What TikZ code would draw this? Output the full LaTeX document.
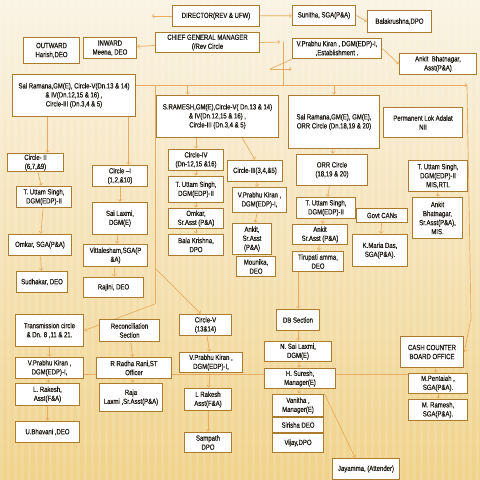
\documentclass[tikz,border=0pt]{standalone}
\usepackage{fontspec}
\setmainfont[FakeStretch=0.8, FakeBold=0.4]{Liberation Sans}
\usetikzlibrary{calc,backgrounds}

\definecolor{frame}{RGB}{170,124,44}
\definecolor{wire}{RGB}{232,172,96}
\definecolor{bgtop}{RGB}{250,243,228}
\definecolor{bgmid}{RGB}{246,228,184}
\definecolor{bgbot}{RGB}{240,210,138}
\definecolor{ink}{RGB}{30,26,20}
\newcommand{\boxfont}{\fontsize{7.5}{9}\selectfont}

\begin{document}
\begin{tikzpicture}[x=1pt, y=-1pt,
	staff/.style={draw=frame, fill=white, text=ink, line width=1.8pt, align=center, inner sep=1pt, font=\boxfont},
	sz/.style 2 args={minimum width=#1, minimum height=#2},
	link/.style={->, draw=wire, line width=0.7pt},
	wireline/.style={draw=wire, line width=0.7pt},
	]
	\useasboundingbox (0,0) rectangle (480,480);

	% top
	\node[staff, sz={87}{21}] (dir) at (216,16) {DIRECTOR(REV \& UFW)};
	\node[staff, sz={63}{20}] (suni) at (324,15.5) {Sunitha, SGA(P\&A)};
	\node[staff, sz={64}{22}] (bala) at (399.5,21.5) {Balakrushna,DPO};
	\node[staff, sz={104}{20}] (cgm) at (207.5,42.5) {CHIEF GENERAL MANAGER\\(/Rev Circle};
	\node[staff, sz={56}{26}] (outw) at (51.5,50.5) {OUTWARD\\Harish,DEO};
	\node[staff, sz={53}{21}] (inw) at (110,48) {INWARD\\Meena, DEO};
	\node[staff, sz={89}{20}] (vpk1) at (337,48.5) {V.Prabhu Kiran , DGM(EDP)-I,\\,Establishment .};
	\node[staff, sz={77}{21}] (ankA) at (438,64) {Ankit\ \ Bhatnagar,\\Asst(P\&A)};

	% general managers
	\node[staff, sz={123}{42}] (sair) at (74,95.5) {Sai Ramana,GM(E), Circle-V(Dn.13 \& 14)\\\& IV(Dn.12,15 \& 16) ,\\Circle-III (Dn.3,4 \& 5)};
	\node[staff, sz={122}{42}] (srm) at (217.5,116.5) {S.RAMESH,GM(E),Circle-V( Dn.13 \& 14)\\\& IV(Dn.12,15 \& 16) ,\\Circle-III (Dn.3,4 \& 5)};
	\node[staff, sz={91}{53}] (saio) at (334,122) {Sai Ramana,GM(E), GM(E),\\ORR Circle (Dn.18,19 \& 20)};
	\node[staff, sz={79}{30}] (pla) at (423,122.5) {Permanent Lok Adalat\\NII};

	% circles
	\node[staff, sz={56}{16}] (c2) at (35.5,162.5) {Circle- II\\(6,7,\&9)};
	\node[staff, sz={55}{21}] (c1) at (120,176) {Circle –I\\(1,2,\&10)};
	\node[staff, sz={55}{21}] (c4) at (196,160) {Circle-IV\\(Dn-12,15 \&16)};
	\node[staff, sz={55}{21}] (c3) at (255,171) {Circle-III(3,4,\&5)};
	\node[staff, sz={71}{31}] (orr) at (332,170) {ORR Circle\\(18,19 \& 20)};
	\node[staff, sz={59}{31}] (tumis) at (438,176) {T. Uttam Singh,\\DGM(EDP)-II\\MIS,RTI.};

	\node[staff, sz={55}{21}] (tu2) at (44,197) {T. Uttam Singh,\\DGM(EDP)-II};
	\node[staff, sz={55}{32}] (slx) at (120,218.5) {Sai Laxmi,\\DGM(E)};
	\node[staff, sz={55}{26}] (tu4) at (196,189.5) {T. Uttam Singh,\\DGM(EDP)-II};
	\node[staff, sz={54}{25}] (vpk3) at (259.5,200) {V.Prabhu Kiran ,\\DGM(EDP)-I,};
	\node[staff, sz={59}{21}] (tuo) at (326,208) {T. Uttam Singh,\\DGM(EDP)-II};
	\node[staff, sz={51}{14}] (gcan) at (382,215.5) {Govt CANs};
	\node[staff, sz={50}{41}] (ankmis) at (437.5,218) {Ankit\\Bhatnagar,\\Sr.Asst(P\&A),\\MIS.};

	\node[staff, sz={63}{21}] (omk2) at (40,245) {Omkar, SGA(P\&A)};
	\node[staff, sz={64}{22}] (vitt) at (115.5,255.5) {Vittalesham,SGA(P\\\&A)};
	\node[staff, sz={55}{20}] (omk4) at (196,218.5) {Omkar,\\Sr.Asst (P\&A)};
	\node[staff, sz={55}{21}] (bkd) at (196,245) {Bala Krishna,\\DPO};
	\node[staff, sz={39}{31}] (ank3) at (252,239) {Ankit,\\Sr.Asst\\(P\&A)};
	\node[staff, sz={39}{20}] (mou) at (256,266.5) {Mounika,\\DEO};
	\node[staff, sz={55}{20}] (anko) at (320,234.5) {Ankit\\Sr.Asst (P\&A)};
	\node[staff, sz={51}{20}] (tiru) at (318,261.5) {Tirupati amma,\\DEO};
	\node[staff, sz={55}{32}] (kmd) at (380,250.5) {K.Maria Das,\\SGA(P\&A).};
	\node[staff, sz={51}{21}] (sudh) at (42,282) {Sudhakar, DEO};
	\node[staff, sz={60}{20}] (raj) at (113.5,287.5) {Rajini, DEO};

	% sections
	\node[staff, sz={68}{32}] (trans) at (49.5,330.5) {Transmission circle\\\& Dn. 8 ,11 \& 21.};
	\node[staff, sz={60}{22}] (reco) at (129.5,330.5) {Reconciliation\\Section};
	\node[staff, sz={52}{21}] (c5) at (205.5,325) {Circle-V\\(13\&14)};
	\node[staff, sz={43}{21}] (dbs) at (298,320) {DB Section};
	\node[staff, sz={63}{31}] (cash) at (432,352) {CASH COUNTER\\BOARD OFFICE};

	\node[staff, sz={68}{21}] (vpkt) at (49.5,368) {V.Prabhu Kiran ,\\DGM(EDP)-I,};
	\node[staff, sz={75}{21}] (radha) at (134,368) {R Radha Rani,ST\\Officer};
	\node[staff, sz={63}{20}] (vpk5) at (211,362.5) {V.Prabhu Kiran ,\\DGM(EDP)-I,};
	\node[staff, sz={67}{20}] (nsl) at (298,351.5) {N. Sai Laxmi,\\DGM(E)};
	\node[staff, sz={64}{22}] (lrt) at (47.5,394.5) {L. Rakesh,\\Asst(F\&A)};
	\node[staff, sz={63}{28}] (rajl) at (131,397.5) {Raja\\Laxmi ,Sr.Asst(P\&A)};
	\node[staff, sz={47}{22}] (lr5) at (208,399.5) {L Rakesh\\Asst(F\&A)};
	\node[staff, sz={71}{20}] (hsu) at (300,378.5) {H. Suresh,\\Manager(E)};
	\node[staff, sz={59}{20}] (pent) at (438,383.5) {M.Pentaiah ,\\SGA(P\&A).};
	\node[staff, sz={59}{21}] (mram) at (438,410) {M. Ramesh,\\SGA(P\&A).};
	\node[staff, sz={51}{22}] (van) at (298,405.5) {Vanitha ,\\Manager(E)};
	\node[staff, sz={51}{15}] (siri) at (298,425) {Sirisha DEO};
	\node[staff, sz={64}{21}] (ub) at (47.5,432) {U.Bhavani ,DEO};
	\node[staff, sz={47}{20}] (samp) at (208,442.5) {Sampath\\DPO};
	\node[staff, sz={51}{19}] (vij) at (298,443) {Vijay,DPO};
	\node[staff, sz={67}{21}] (jay) at (366,469) {Jayamma, (Attender)};

	% free ends of the connectors
	\node[coordinate] (dirW) at (152,16) {};
	\node[coordinate] (cgmE) at (280,42) {};
	\node[coordinate] (cgmT) at (283,42) {};
	\node[coordinate] (wedge) at (270,69) {};
	\node[coordinate] (busR) at (467,85) {};
	\node[coordinate] (bendR) at (471,318) {};
	\node[coordinate] (trkA) at (155,85) {};
	\node[coordinate] (trkB) at (155,304) {};
	\node[coordinate] (trkC) at (155,268) {};

	\begin{pgfonlayer}{background}
		\shade[top color=bgtop, middle color=bgmid, bottom color=bgbot] (0,0) rectangle (480,480);
		\foreach \x in {0,7,...,476}
			\fill[white, opacity=0.13] (\x,0) rectangle ++(3,480);

		\draw[link] (dir) -- (dirW);
		\draw[link] (dir) -- (suni);
		\draw[link] (suni.east) -- (bala.west);
		\draw[link] (cgm) -- (inw);
		\draw[link] (cgm.east) -- (cgmE);
		\draw[wireline] (cgmT) -- (cgmT |- busR);
		\draw[wireline] (wedge) -- (vpk1.south west);
		\draw[link] (wedge) -- (vpk1.south west |- wedge);
		\draw[link] (vpk1.east) -- (ankA.west);

		% bus below the top
		\draw[link] ([yshift=10.5pt]sair.east) -- (busR);
		\draw[link] ([xshift=32pt]srm.north west |- busR) -- ([xshift=32pt]srm.north west);
		\draw[link] (saio.north |- busR) -- (saio.north);
		\draw[link] (busR) -- (bendR) -- (cash.east);
		\draw[wireline] (trkA) -- (trkB);
		\draw[link] (trkB) -- (trans.east);
		\draw[link] (trkC) -- ([xshift=-5pt]c5.north);

		\draw[link] ([xshift=36pt]sair.south west) -- ([xshift=41pt]c2.north west);
		\draw[link] ([xshift=-8pt]sair.south east) -- ([xshift=-20pt]c1.north east);
		\draw[link] (srm.south -| c4) -- (c4.north);
		\draw[link] ([xshift=-37pt]srm.south east) -- (c3.north);
		\draw[link] (tiru.south -| dbs) -- (dbs.north);
		\draw[wireline] ([yshift=-6pt]vpkt.east) -- ([yshift=-6pt]vpkt.east -| pent.west);
		\draw[link] (van.north east) -- ([xshift=-11pt]jay.north);

		\foreach \a/\b in {c2/tu2, tu2/omk2, omk2/sudh, c1/slx, slx/vitt, vitt/raj,
			c4/tu4, tu4/omk4, omk4/bkd, c3/vpk3, vpk3/ank3, saio/orr, orr/tuo,
			tuo/anko, anko/tiru, gcan/kmd, tumis/ankmis, trans/vpkt, vpkt/lrt, lrt/ub,
			reco/radha, radha/rajl, c5/vpk5, vpk5/lr5, lr5/samp, dbs/nsl, nsl/hsu,
			hsu/van, cash/pent, pent/mram}
			\draw[link] (\a) -- (\b);
	\end{pgfonlayer}

\end{tikzpicture}
\end{document}
